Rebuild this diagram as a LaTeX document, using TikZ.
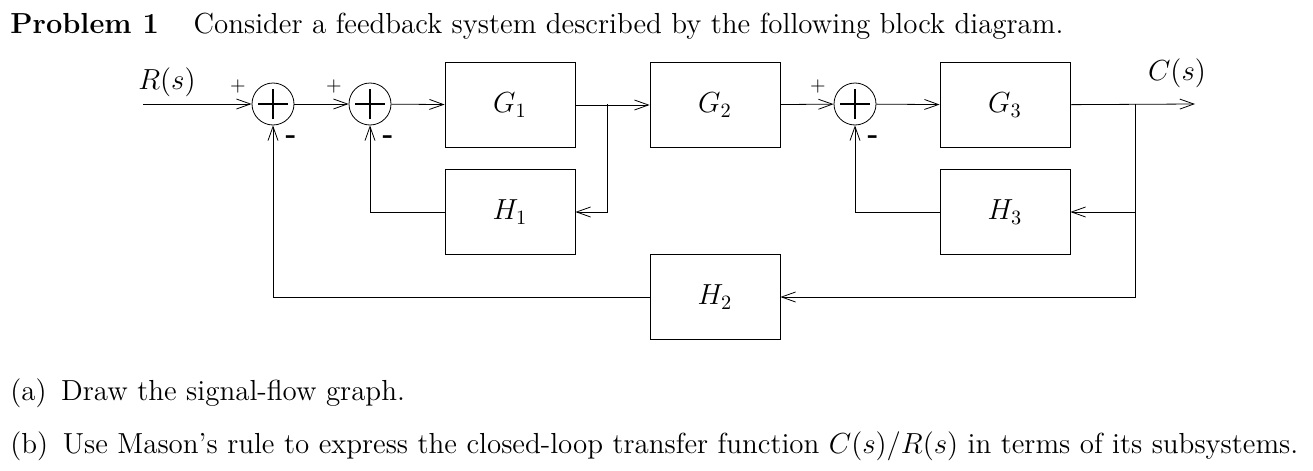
\documentclass[tikz,border=0pt]{standalone}
\usepackage{fix-cm}
\usepackage{fontspec}
\usetikzlibrary{arrows.meta}
\begin{document}
\begin{tikzpicture}[x=0.5pt,y=-0.5pt,
  every node/.style={font=\fontsize{14.5}{17}\selectfont},
  blk/.style={draw,minimum width=65pt,minimum height=42.5pt,inner sep=0pt},
  sumj/.style={draw,circle,minimum size=21pt,inner sep=0pt},
  sig/.style={-{Straight Barb[length=7pt,width=5pt]}},
  sgn/.style={font=\fontsize{10}{12}\selectfont}]
\useasboundingbox (0,0) rectangle (1313,471);
\node[anchor=base west,inner sep=0] (title) at (10,33) {\textbf{Problem 1}\hspace{1.2em}Consider a feedback system described by the following block diagram.};
\node[sumj] (s1) at (273,104) {}; \draw[line width=0.9pt] (s1.center) ++(-7.5pt,0) -- ++(15pt,0) (s1.center) ++(0,-7.5pt) -- ++(0,15pt);
\node[sumj] (s2) at (370,104) {}; \draw[line width=0.9pt] (s2.center) ++(-7.5pt,0) -- ++(15pt,0) (s2.center) ++(0,-7.5pt) -- ++(0,15pt);
\node[sumj] (s3) at (855,104) {}; \draw[line width=0.9pt] (s3.center) ++(-7.5pt,0) -- ++(15pt,0) (s3.center) ++(0,-7.5pt) -- ++(0,15pt);
\node[sgn] (p1) at (238,86) {$+$};
\node[sgn] (p2) at (334,86) {$+$};
\node[sgn] (p3) at (818,86) {$+$};
\node (m1) at (291,140) {\textbf{-}};
\node (m2) at (388,140) {\textbf{-}};
\node (m3) at (873,140) {\textbf{-}};
\node[blk] (G1) at (510,105) {$G_1$};
\node[blk] (G2) at (715,105) {$G_2$};
\node[blk] (G3) at (1005,105) {$G_3$};
\node[blk] (H1) at (510,212) {$H_1$};
\node[blk] (H3) at (1005,212) {$H_3$};
\node[blk] (H2) at (715,297) {$H_2$};
\node (R) at (167,82) {$R(s)$};
\node (C) at (1177,73) {$C(s)$};
\coordinate (in) at (143,104);
\coordinate (out) at (1195,104);
\coordinate (k1) at (607,104);
\coordinate (k3) at (1135,104);
\draw[sig] (in) -- (s1);
\draw[sig] (s1) -- (s2);
\draw[sig] (s2) -- (G1);
\draw[sig] (G1) -- (G2);
\draw[sig] (G2) -- (s3);
\draw[sig] (s3) -- (G3);
\draw[sig] (G3) -- (out);
\draw[sig] (k1) |- (H1);
\draw[sig] (H1) -| (s2);
\draw[sig] (k3) |- (H3);
\draw[sig] (H3) -| (s3);
\draw[sig] (k3) |- (H2);
\draw[sig] (H2) -| (s1);
\node[anchor=base west,inner sep=0] (qa) at (10,400) {(a)\hspace{0.5em}Draw the signal-flow graph.};
\node[anchor=base west,inner sep=0] (qb) at (10,453) {(b)\hspace{0.5em}Use Mason's rule to express the closed-loop transfer function $C(s)/R(s)$ in terms of its subsystems.};
\end{tikzpicture}
\end{document}
